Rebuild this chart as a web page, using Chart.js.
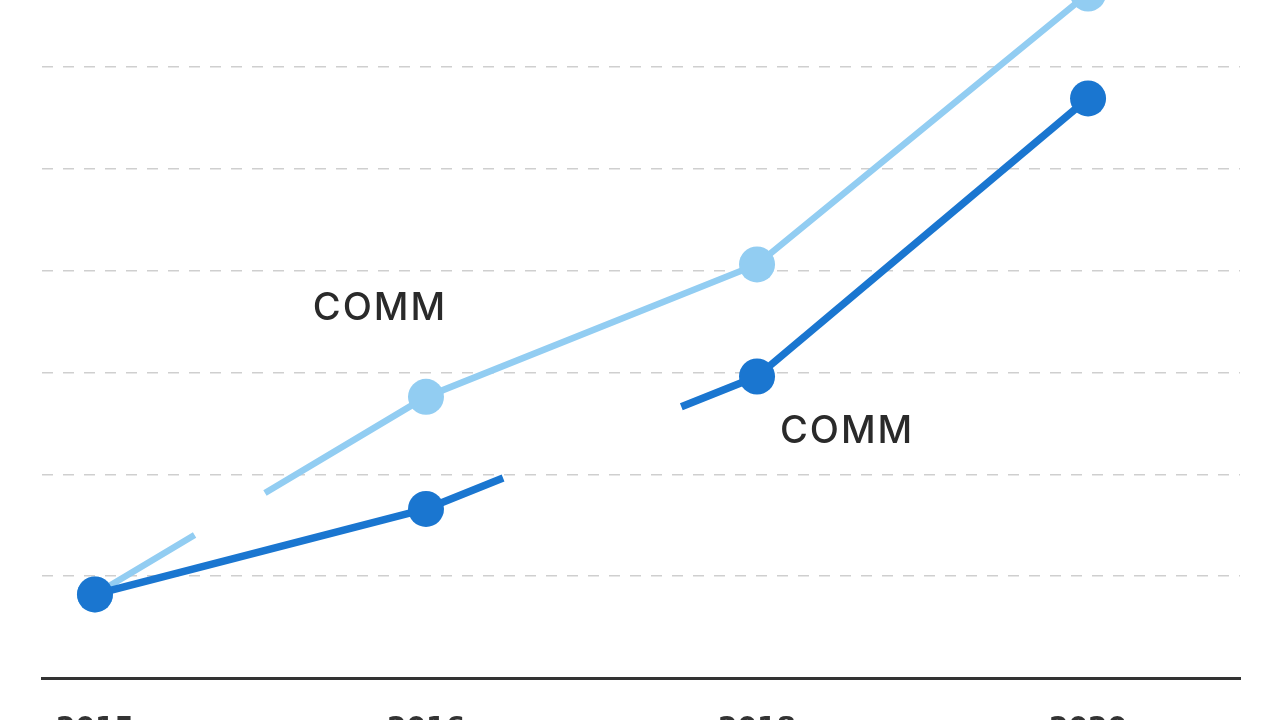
<!DOCTYPE html>
<html>
<head>
<meta charset="utf-8">
<script src="https://cdn.jsdelivr.net/npm/chart.js@4.4.1/dist/chart.umd.min.js"></script>
<style>
  html, body { margin: 0; padding: 0; background: #ffffff; overflow: hidden; width: 1280px; height: 720px; }
  #wrap { position: absolute; left: 0; top: -60px; width: 1280px; height: 808px; }
</style>
</head>
<body>
<div id="wrap"><canvas id="c" width="1280" height="808"></canvas></div>
<script>
// ---- data ----
const years = ["2015", "2016", "2018", "2020"];
const lightSeries = [0.82, 2.76, 4.06, 6.72];
const darkSeries = [0.82, 1.66, 2.96, 5.69];
const textLabels = ["COMM", "COMM"];

const DARK = '#1a76d0';
const LIGHT = '#92cdf2';

const labelPlugin = {
  id: 'commLabels',
  afterDatasetsDraw(chart) {
    const {ctx, scales} = chart;
    const spots = [[0.861, 3.63], [2.272, 2.415]];
    ctx.save();
    ctx.font = '500 38px Inter, "DejaVu Sans", sans-serif';
    ctx.fillStyle = '#2a2a2a';
    ctx.textAlign = 'center';
    ctx.textBaseline = 'middle';
    try { ctx.letterSpacing = '2px'; } catch (e) {}
    textLabels.forEach((t, i) => {
      ctx.fillText(t, scales.x.getPixelForValue(spots[i][0]), scales.y.getPixelForValue(spots[i][1]));
    });
    ctx.restore();
  }
};

new Chart(document.getElementById('c'), {
  type: 'line',
  data: {
    datasets: [
      {
        data: darkSeries.map((v, i) => ({x: i, y: v})),
        borderColor: DARK,
        backgroundColor: DARK,
        borderWidth: 7.5,
        pointRadius: 18,
        pointBorderWidth: 0,
        pointBackgroundColor: DARK,
        borderCapStyle: 'butt',
        tension: 0,
        segment: {
          borderDash: c => c.p0DataIndex === 1 ? [83, 192, 1000] : undefined
        }
      },
      {
        data: lightSeries.map((v, i) => ({x: i, y: v})),
        borderColor: LIGHT,
        backgroundColor: LIGHT,
        borderWidth: 6.5,
        pointRadius: 18,
        pointBorderWidth: 0,
        pointBackgroundColor: LIGHT,
        borderCapStyle: 'butt',
        tension: 0,
        segment: {
          borderDash: c => c.p0DataIndex === 0 ? [116, 82, 1000] : undefined
        }
      }
    ]
  },
  options: {
    responsive: false,
    animation: false,
    events: [],
    layout: { padding: { top: 25, left: 42, right: 40, bottom: 0 } },
    plugins: { legend: { display: false }, tooltip: { enabled: false } },
    scales: {
      x: {
        type: 'linear',
        min: -0.16,
        max: 3.459,
        afterBuildTicks: s => { s.ticks = years.map((_, i) => ({value: i})); },
        afterFit: s => { s.height = 70; },
        grid: { display: false, drawTicks: false },
        border: { display: true, color: '#333333', width: 3 },
        ticks: {
          padding: 35,
          maxRotation: 0,
          autoSkip: false,
          color: '#333333',
          font: { family: '"DejaVu Sans", sans-serif', size: 28, weight: '600' },
          callback: v => years[v]
        }
      },
      y: {
        min: 0,
        max: 7,
        afterFit: s => { s.width = 0; },
        ticks: { display: false, stepSize: 1 },
        grid: {
          drawTicks: false,
          color: c => c.tick.value === 0 ? 'rgba(0,0,0,0)' : '#cfcfcf',
          lineWidth: 1.5
        },
        border: { display: false, dash: [11, 10] }
      }
    }
  },
  plugins: [labelPlugin]
});
</script>
</body>
</html>
